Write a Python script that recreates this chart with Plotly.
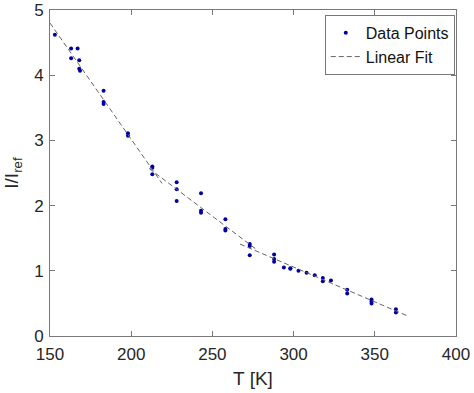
import plotly.graph_objects as go

# Data points (T in K, normalized intensity)
T_data = [153, 163, 167, 163, 168, 168, 168.5,
          183, 183, 183, 198, 198,
          213, 213, 213, 228, 228, 228,
          243, 243, 243, 258, 258, 258,
          273, 273, 273, 288, 288, 288,
          294, 298, 298, 303, 308, 313, 318, 318, 323,
          333, 333, 348, 348, 348, 363, 363]
I_data = [4.62, 4.41, 4.41, 4.26, 4.23, 4.10, 4.07,
          3.76, 3.59, 3.56, 3.11, 3.07,
          2.60, 2.58, 2.48, 2.36, 2.25, 2.07,
          2.19, 1.92, 1.89, 1.79, 1.64, 1.62,
          1.41, 1.38, 1.24, 1.25, 1.18, 1.14,
          1.05, 1.04, 1.03, 1.00, 0.97, 0.93, 0.89, 0.84, 0.85,
          0.71, 0.65, 0.56, 0.53, 0.50, 0.41, 0.36]

# Piecewise linear fit segments (start/end T and I)
fit_T = [[150, 219], [211, 277], [267, 370]]
fit_I = [[4.80, 2.34], [2.57, 1.33], [1.41, 0.31]]

x_ticks = [150, 200, 250, 300, 350, 400]
y_ticks = [0, 1, 2, 3, 4, 5]

fx, fy = [], []
for ts, ys in zip(fit_T, fit_I):
    fx += ts + [None]
    fy += ys + [None]

TXT = "#262626"
AX = "rgb(120,120,120)"

fig = go.Figure()
fig.add_trace(go.Scatter(x=T_data, y=I_data, mode="markers", name="Data Points",
                         marker=dict(color="rgb(0,0,160)", size=4)))
fig.add_trace(go.Scatter(x=fx, y=fy, mode="lines", name="Linear Fit",
                         line=dict(color="rgb(100,100,100)", width=1, dash="5px,3px")))

axis_common = dict(showgrid=False, zeroline=False, showline=True, linecolor=AX,
                   linewidth=1, mirror="ticks", ticks="inside", ticklen=5,
                   tickcolor=AX, tickfont=dict(size=17, color=TXT), automargin=False)
fig.update_xaxes(range=[150, 400], tickvals=x_ticks, ticklabelstandoff=3,
                 title=dict(text="T [K]", font=dict(size=19, color=TXT), standoff=8),
                 **axis_common)
fig.update_yaxes(range=[0, 5], tickvals=y_ticks, ticklabelstandoff=2,
                 title=dict(text="I/I<sub>ref</sub>", font=dict(size=19, color=TXT), standoff=10),
                 **axis_common)

fig.update_layout(
    width=474, height=393,
    margin=dict(l=50, r=18, t=10, b=57),
    paper_bgcolor="white", plot_bgcolor="white",
    font=dict(family="Liberation Sans, Arial, sans-serif", color=TXT),
    legend=dict(x=0.997, y=0.985, xanchor="right", yanchor="top",
                bordercolor=AX, borderwidth=1, bgcolor="white",
                font=dict(size=16, color="#111"), itemwidth=30, tracegroupgap=0),
    showlegend=True,
)

fig.write_html("out.html", config={"displayModeBar": False},
               post_script="document.body.style.margin='0';document.body.style.overflow='hidden';")
